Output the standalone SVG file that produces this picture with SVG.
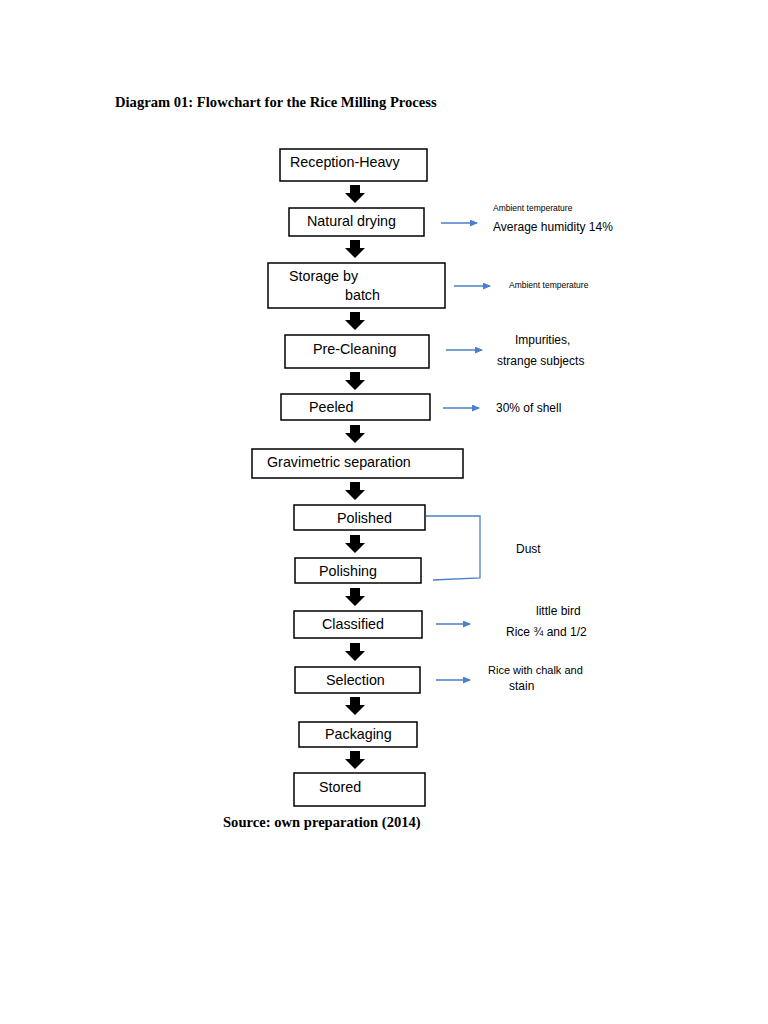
<svg xmlns="http://www.w3.org/2000/svg" width="768" height="1024" viewBox="0 0 768 1024">
<style>
.b{fill:#fff;stroke:#000;stroke-width:1.5}
.t{font-family:"Liberation Sans",Arial,sans-serif;font-size:14.3px;fill:#000}
.s{font-family:"Liberation Sans",Arial,sans-serif;font-size:12px;fill:#000}
.h{font-family:"Liberation Serif","Times New Roman",serif;font-size:14.6px;font-weight:bold;fill:#000}
.bl{stroke:#4a7fc9;stroke-width:1.3;fill:none}
</style>
<defs>
<marker id="m" markerWidth="8" markerHeight="8" refX="7" refY="3.5" orient="auto" markerUnits="userSpaceOnUse"><path d="M0,0 L8,3.5 L0,7 Z" fill="#4a7fc9"/></marker>
<path id="da" d="M-5,0 H5 V8 H10 L0,18 L-10,8 H-5 Z" fill="#000"/>
</defs>
<rect width="768" height="1024" fill="#fff"/>
<text class="h" x="115" y="107">Diagram 01: Flowchart for the Rice Milling Process</text>
<g id="n1"><rect class="b" x="280" y="149" width="147" height="32"/><text class="t" x="290" y="167">Reception-Heavy</text></g>
<g id="n2"><rect class="b" x="289" y="208" width="135" height="28"/><text class="t" x="307" y="226">Natural drying</text></g>
<g id="n3"><rect class="b" x="268" y="263" width="177" height="45"/><text class="t" x="289" y="281">Storage by</text><text class="t" x="345" y="300">batch</text></g>
<g id="n4"><rect class="b" x="285" y="335" width="144" height="33"/><text class="t" x="313" y="354">Pre-Cleaning</text></g>
<g id="n5"><rect class="b" x="281" y="394" width="149" height="26"/><text class="t" x="309" y="412">Peeled</text></g>
<g id="n6"><rect class="b" x="252" y="449" width="211" height="29"/><text class="t" x="267" y="467">Gravimetric separation</text></g>
<g id="n7"><rect class="b" x="294" y="505" width="131" height="25"/><text class="t" x="337" y="523">Polished</text></g>
<g id="n8"><rect class="b" x="295" y="558" width="126" height="25"/><text class="t" x="319" y="576">Polishing</text></g>
<g id="n9"><rect class="b" x="294" y="611" width="128" height="27"/><text class="t" x="322" y="629">Classified</text></g>
<g id="n10"><rect class="b" x="295" y="667" width="125" height="26"/><text class="t" x="326" y="685">Selection</text></g>
<g id="n11"><rect class="b" x="299" y="722" width="118" height="25"/><text class="t" x="325" y="739">Packaging</text></g>
<g id="n12"><rect class="b" x="294" y="773" width="131" height="33"/><text class="t" x="319" y="792">Stored</text></g>
<g id="connectors">
<use href="#da" x="355" y="185"/>
<use href="#da" x="355" y="240"/>
<use href="#da" x="355" y="312"/>
<use href="#da" x="355" y="372"/>
<use href="#da" x="355" y="425"/>
<use href="#da" x="355" y="482"/>
<use href="#da" x="355" y="535"/>
<use href="#da" x="355" y="588"/>
<use href="#da" x="355" y="643"/>
<use href="#da" x="355" y="697"/>
<use href="#da" x="355" y="751"/>
<line class="bl" x1="441" y1="223" x2="477" y2="223" marker-end="url(#m)"/>
<line class="bl" x1="454" y1="286" x2="490" y2="286" marker-end="url(#m)"/>
<line class="bl" x1="446" y1="350" x2="482" y2="350" marker-end="url(#m)"/>
<line class="bl" x1="443" y1="408" x2="479" y2="408" marker-end="url(#m)"/>
<line class="bl" x1="436" y1="624" x2="470" y2="624" marker-end="url(#m)"/>
<line class="bl" x1="436" y1="680" x2="470" y2="680" marker-end="url(#m)"/>
<polyline class="bl" points="426,516 480,516 480,578 433,580"/>
</g>
<text class="s" x="493" y="211" style="font-size:8.5px">Ambient temperature</text>
<text class="s" x="493" y="231">Average humidity 14%</text>
<text class="s" x="509" y="288" style="font-size:8.5px">Ambient temperature</text>
<text class="s" x="515" y="344">Impurities,</text>
<text class="s" x="497" y="365">strange subjects</text>
<text class="s" x="496" y="412">30% of shell</text>
<text class="s" x="516" y="553">Dust</text>
<text class="s" x="536" y="615">little bird</text>
<text class="s" x="506" y="636">Rice ¾ and 1/2</text>
<text class="s" x="488" y="674" style="font-size:11px">Rice with chalk and</text>
<text class="s" x="509" y="690">stain</text>
<text class="h" x="223" y="827">Source: own preparation (2014)</text>
</svg>
